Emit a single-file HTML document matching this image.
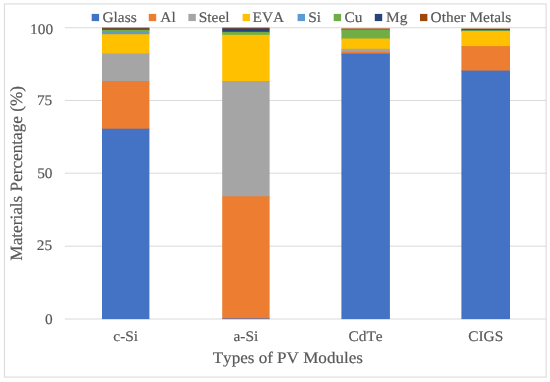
<!DOCTYPE html>
<html><head><meta charset="utf-8"><title>Materials Percentage by PV Module Type</title>
<style>
html,body{margin:0;padding:0;background:#fff;}
body{width:550px;height:382px;overflow:hidden;}
svg{display:block;filter:blur(0.35px);}
svg text{font-family:"Liberation Serif","Times New Roman",serif;fill:#595959;font-kerning:none;stroke:#595959;stroke-width:0.2px;text-rendering:geometricPrecision;}
.t{font-size:15.36px;}
.a{font-size:17.07px;}
</style></head><body>
<svg width="550" height="382" viewBox="0 0 550 382">
<rect x="0" y="0" width="550" height="382" fill="#ffffff"/>
<rect x="4.45" y="3.95" width="541.65" height="373.15" fill="none" stroke="#dedede" stroke-width="1.2"/>
<line x1="64.9" y1="27.75" x2="546.5" y2="27.75" stroke="#d9d9d9" stroke-width="1"/>
<line x1="64.9" y1="100.45" x2="546.5" y2="100.45" stroke="#d9d9d9" stroke-width="1"/>
<line x1="64.9" y1="173.20" x2="546.5" y2="173.20" stroke="#d9d9d9" stroke-width="1"/>
<line x1="64.9" y1="246.20" x2="546.5" y2="246.20" stroke="#d9d9d9" stroke-width="1"/>
<line x1="64.9" y1="319.00" x2="546.5" y2="319.00" stroke="#d9d9d9" stroke-width="1"/>
<rect x="102.0" y="27.6" width="47.4" height="2.0" fill="#9E480E"/>
<rect x="102.0" y="28.6" width="47.4" height="2.1" fill="#264478"/>
<rect x="102.0" y="29.7" width="47.4" height="3.4" fill="#70AD47"/>
<rect x="102.0" y="32.1" width="47.4" height="3.1" fill="#5B9BD5"/>
<rect x="102.0" y="34.2" width="47.4" height="20.3" fill="#FFC000"/>
<rect x="102.0" y="53.5" width="47.4" height="28.5" fill="#A5A5A5"/>
<rect x="102.0" y="81.0" width="47.4" height="48.7" fill="#ED7D31"/>
<rect x="102.0" y="128.7" width="47.4" height="190.4" fill="#4472C4"/>
<rect x="222.2" y="27.6" width="47.4" height="1.9" fill="#9E480E"/>
<rect x="222.2" y="28.5" width="47.4" height="4.2" fill="#264478"/>
<rect x="222.2" y="31.8" width="47.4" height="4.0" fill="#70AD47"/>
<rect x="222.2" y="34.8" width="47.4" height="47.2" fill="#FFC000"/>
<rect x="222.2" y="81.0" width="47.4" height="116.3" fill="#A5A5A5"/>
<rect x="222.2" y="196.3" width="47.4" height="122.8" fill="#ED7D31"/>
<rect x="222.2" y="318.4" width="47.4" height="0.7" fill="#4472C4"/>
<rect x="341.4" y="28.4" width="48.5" height="2.1" fill="#9E480E"/>
<rect x="341.4" y="29.5" width="48.5" height="10.0" fill="#70AD47"/>
<rect x="341.4" y="38.5" width="48.5" height="11.3" fill="#FFC000"/>
<rect x="341.4" y="48.8" width="48.5" height="3.8" fill="#A5A5A5"/>
<rect x="341.4" y="51.6" width="48.5" height="3.0" fill="#ED7D31"/>
<rect x="341.4" y="53.6" width="48.5" height="265.5" fill="#4472C4"/>
<rect x="461.4" y="28.5" width="48.6" height="1.9" fill="#9E480E"/>
<rect x="461.4" y="29.4" width="48.6" height="1.8" fill="#264478"/>
<rect x="461.4" y="30.2" width="48.6" height="1.8" fill="#70AD47"/>
<rect x="461.4" y="31.0" width="48.6" height="16.1" fill="#FFC000"/>
<rect x="461.4" y="46.1" width="48.6" height="25.5" fill="#ED7D31"/>
<rect x="461.4" y="70.6" width="48.6" height="248.5" fill="#4472C4"/>
<text class="t" transform="translate(53.1,33.70) scale(1,0.95)" text-anchor="end">100</text>
<text class="t" transform="translate(52.3,105.25) scale(1,0.95)" text-anchor="end">75</text>
<text class="t" transform="translate(52.5,178.10) scale(1,0.95)" text-anchor="end">50</text>
<text class="t" transform="translate(52.2,250.30) scale(1,0.95)" text-anchor="end">25</text>
<text class="t" transform="translate(52.7,324.10) scale(1,0.95)" text-anchor="end">0</text>
<text class="t" transform="translate(125.7,341.45) scale(1,0.95)" text-anchor="middle">c-Si</text>
<text class="t" transform="translate(245.9,341.45) scale(1,0.95)" text-anchor="middle">a-Si</text>
<text class="t" transform="translate(365.6,341.45) scale(1,0.95)" text-anchor="middle">CdTe</text>
<text class="t" transform="translate(485.7,341.45) scale(1,0.95)" text-anchor="middle">CIGS</text>
<rect x="91.7" y="13.9" width="7.4" height="7.2" fill="#4472C4"/>
<text class="t" transform="translate(102.5,22.2) scale(1,0.95)">Glass</text>
<rect x="148.8" y="13.9" width="7.4" height="7.2" fill="#ED7D31"/>
<text class="t" transform="translate(160.3,22.2) scale(1,0.95)">Al</text>
<rect x="188.4" y="13.9" width="7.4" height="7.2" fill="#A5A5A5"/>
<text class="t" transform="translate(198.8,22.2) scale(1,0.95)">Steel</text>
<rect x="242.6" y="13.9" width="7.4" height="7.2" fill="#FFC000"/>
<text class="t" transform="translate(252.6,22.2) scale(1,0.95)">EVA</text>
<rect x="297.6" y="13.9" width="7.4" height="7.2" fill="#5B9BD5"/>
<text class="t" transform="translate(308.3,22.2) scale(1,0.95)">Si</text>
<rect x="333.7" y="13.9" width="7.4" height="7.2" fill="#70AD47"/>
<text class="t" transform="translate(344.4,22.2) scale(1,0.95)">Cu</text>
<rect x="374.8" y="13.9" width="7.4" height="7.2" fill="#264478"/>
<text class="t" transform="translate(386.0,22.2) scale(1,0.95)">Mg</text>
<rect x="420.0" y="13.9" width="7.4" height="7.2" fill="#9E480E"/>
<text class="t" transform="translate(430.6,22.2) scale(1,0.95)">Other Metals</text>
<text class="a" transform="translate(287.8,363.1) scale(1,0.95)" text-anchor="middle">Types of PV Modules</text>
<text class="a" style="font-size:17.2px" transform="translate(22.3,173.3) rotate(-90)" text-anchor="middle">Materials Percentage (%)</text>
</svg>
</body></html>
